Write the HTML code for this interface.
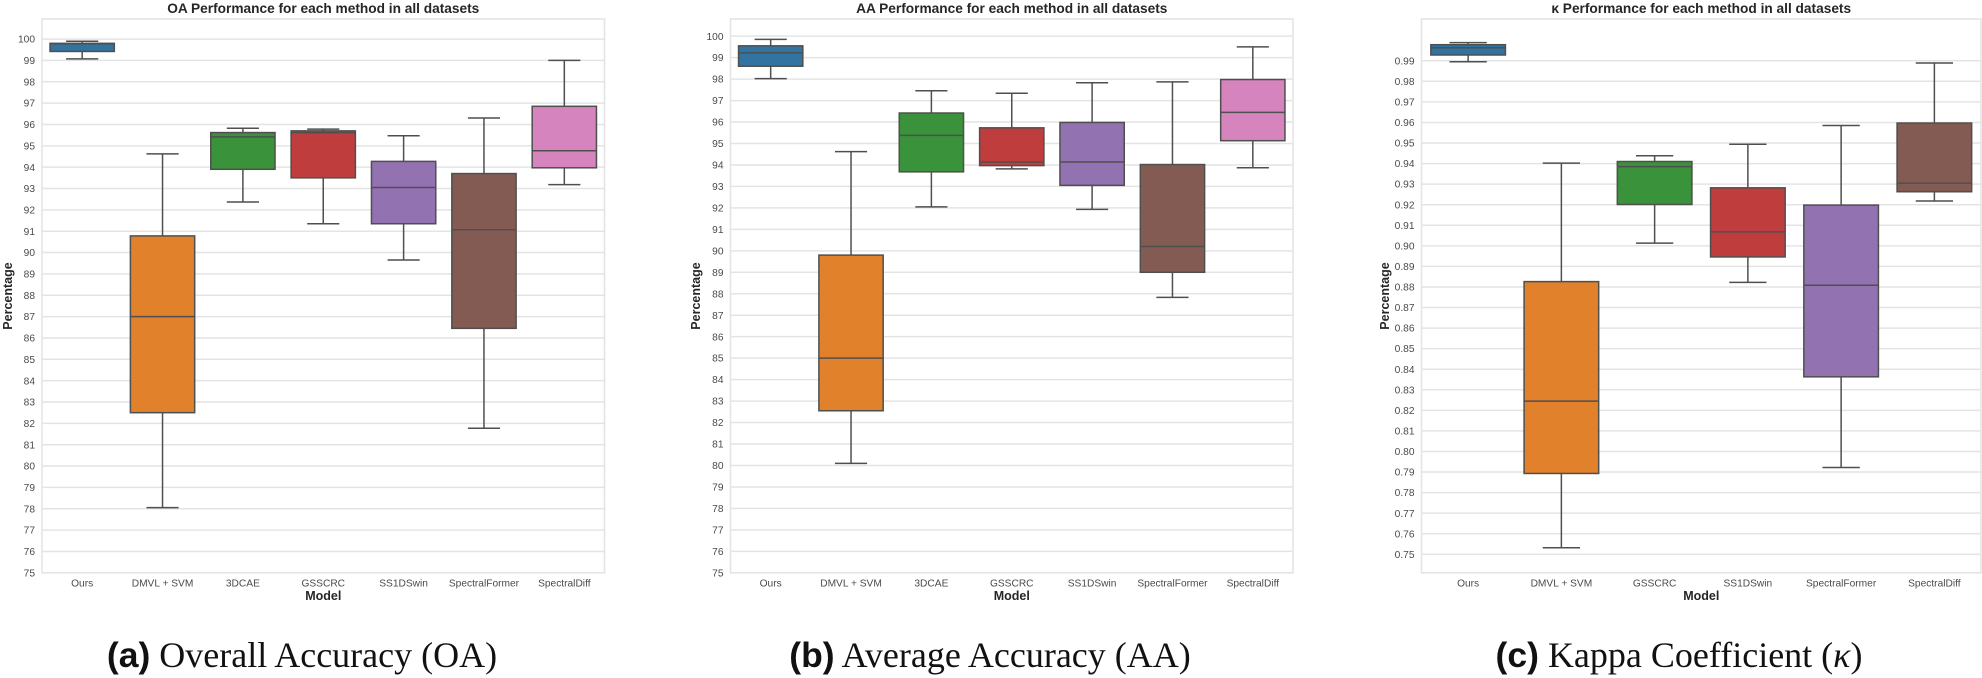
<!DOCTYPE html>
<html lang="en">
<head>
<meta charset="utf-8">
<title>Boxplots of OA, AA and Kappa per method</title>
<style>
html,body{margin:0;padding:0;background:#fff;width:1982px;height:678px;overflow:hidden}
svg{display:block;font-family:"Liberation Sans",Arial,sans-serif}
.tick{font-size:10.2px;fill:#4a4a4a}
.title{font-size:13.7px;font-weight:bold;fill:#262626}
.axlabel{font-size:12.5px;font-weight:bold;fill:#262626}
.cap{font-family:"Liberation Serif","Times New Roman",serif;font-size:36px;fill:#111}
.capb{font-family:"Liberation Sans",Arial,sans-serif;font-weight:bold;font-size:35.5px}
</style>
</head>
<body>
<svg id="chart" xmlns="http://www.w3.org/2000/svg" width="1982" height="678" viewBox="0 0 1982 678">
<rect width="1982" height="678" fill="#fff"/>
<g id="plots" style="filter:blur(0.35px)"></g>
<text class="cap" x="302" y="667" text-anchor="middle"><tspan class="capb">(a)</tspan> Overall Accuracy (OA)</text>
<text class="cap" x="990" y="667" text-anchor="middle"><tspan class="capb">(b)</tspan> Average Accuracy (AA)</text>
<text class="cap" x="1679" y="667" text-anchor="middle"><tspan class="capb">(c)</tspan> Kappa Coefficient (<tspan font-style="italic">κ</tspan>)</text>
</svg>
<script>
// ---- data ----
const categoriesOA = ["Ours","DMVL + SVM","3DCAE","GSSCRC","SS1DSwin","SpectralFormer","SpectralDiff"];
const whiskerLowOA  = [99.07,78.05,92.37,91.35,89.65,81.77,93.18];
const q1OA          = [99.42,82.50,93.90,93.50,91.35,86.45,93.97];
const medianOA      = [99.78,87.00,95.42,95.62,93.05,91.07,94.77];
const q3OA          = [99.80,90.78,95.62,95.70,94.27,93.70,96.85];
const whiskerHighOA = [99.90,94.62,95.82,95.78,95.47,96.30,99.00];
const tickValuesOA  = [75,76,77,78,79,80,81,82,83,84,85,86,87,88,89,90,91,92,93,94,95,96,97,98,99,100];
const tickLabelsOA  = ["75","76","77","78","79","80","81","82","83","84","85","86","87","88","89","90","91","92","93","94","95","96","97","98","99","100"];

const categoriesAA = ["Ours","DMVL + SVM","3DCAE","GSSCRC","SS1DSwin","SpectralFormer","SpectralDiff"];
const whiskerLowAA  = [98.02,80.10,92.05,93.82,91.93,87.83,93.87];
const q1AA          = [98.60,82.55,93.68,93.97,93.05,89.00,95.13];
const medianAA      = [99.22,85.00,95.38,94.14,94.14,90.20,96.45];
const q3AA          = [99.55,89.80,96.42,95.73,95.98,94.02,97.98];
const whiskerHighAA = [99.85,94.62,97.46,97.34,97.83,97.87,99.50];
const tickValuesAA  = [75,76,77,78,79,80,81,82,83,84,85,86,87,88,89,90,91,92,93,94,95,96,97,98,99,100];
const tickLabelsAA  = ["75","76","77","78","79","80","81","82","83","84","85","86","87","88","89","90","91","92","93","94","95","96","97","98","99","100"];

const categoriesK = ["Ours","DMVL + SVM","GSSCRC","SS1DSwin","SpectralFormer","SpectralDiff"];
const whiskerLowK  = [0.9895,0.7532,0.9013,0.8822,0.7922,0.9218];
const q1K          = [0.9928,0.7893,0.9201,0.8946,0.8363,0.9263];
const medianK      = [0.9963,0.8245,0.9385,0.9068,0.8808,0.9305];
const q3K          = [0.9978,0.8826,0.9410,0.9282,0.9198,0.9597];
const whiskerHighK = [0.9988,0.9402,0.9438,0.9494,0.9585,0.9889];
const tickValuesK  = [0.75,0.76,0.77,0.78,0.79,0.80,0.81,0.82,0.83,0.84,0.85,0.86,0.87,0.88,0.89,0.90,0.91,0.92,0.93,0.94,0.95,0.96,0.97,0.98,0.99];
const tickLabelsK  = ["0.75","0.76","0.77","0.78","0.79","0.80","0.81","0.82","0.83","0.84","0.85","0.86","0.87","0.88","0.89","0.90","0.91","0.92","0.93","0.94","0.95","0.96","0.97","0.98","0.99"];

const palette = ["#3274a1","#e1812c","#3a923a","#c03d3e","#9372b2","#845b53","#d684bd"];

const NS = "http://www.w3.org/2000/svg";
const root = document.getElementById("plots");

function make(parent, tag, attrs, text){
  const el = document.createElementNS(NS, tag);
  for (const k in attrs) el.setAttribute(k, attrs[k]);
  if (text !== undefined) el.textContent = text;
  parent.appendChild(el);
  return el;
}

function drawPanel(cfg){
  const g = make(root, "g", {});
  
  

  // axis functions
  const yScale = v => cfg.bottom - (v - cfg.yMin) / (cfg.yMax - cfg.yMin) * (cfg.bottom - cfg.top);
  const band = (cfg.right - cfg.left) / cfg.categories.length;
  const xScale = i => cfg.left + band * (i + 0.5);

  // gridlines and y ticks
  cfg.tickValues.forEach((v, i) => {
    const grid = make(g, "line", {x1: cfg.left, x2: cfg.right, y1: yScale(v), y2: yScale(v), stroke: "#e4e4e4", "stroke-width": 1.5});
    
    
    const lab = make(g, "text", {class: "tick", x: cfg.left - 7, y: yScale(v) + 3.6, "text-anchor": "end"}, cfg.tickLabels[i]);
    
    
  });

  // frame
  const frame = make(g, "rect", {x: cfg.left, y: cfg.top, width: cfg.right - cfg.left, height: cfg.bottom - cfg.top, fill: "none", stroke: "#e4e4e4", "stroke-width": 1.6});
  
  

  // boxes
  cfg.categories.forEach((name, i) => {
    const cx = xScale(i), bw = band * 0.8, cw = band * 0.4;
    const box = make(g, "g", {stroke: "#4f4f4f", "stroke-width": 1.5, fill: "none"});
    
    
    make(box, "line", {x1: cx, x2: cx, y1: yScale(cfg.q3[i]), y2: yScale(cfg.whiskerHigh[i])});
    make(box, "line", {x1: cx, x2: cx, y1: yScale(cfg.q1[i]), y2: yScale(cfg.whiskerLow[i])});
    make(box, "line", {x1: cx - cw / 2, x2: cx + cw / 2, y1: yScale(cfg.whiskerHigh[i]), y2: yScale(cfg.whiskerHigh[i])});
    make(box, "line", {x1: cx - cw / 2, x2: cx + cw / 2, y1: yScale(cfg.whiskerLow[i]), y2: yScale(cfg.whiskerLow[i])});
    make(box, "rect", {x: cx - bw / 2, y: yScale(cfg.q3[i]), width: bw, height: yScale(cfg.q1[i]) - yScale(cfg.q3[i]), fill: palette[i]});
    make(box, "line", {x1: cx - bw / 2, x2: cx + bw / 2, y1: yScale(cfg.median[i]), y2: yScale(cfg.median[i])});
    const lab = make(g, "text", {class: "tick", x: cx, y: 586.5, "text-anchor": "middle"}, name);
    
    
  });

  // titles
  const midX = (cfg.left + cfg.right) / 2;
  const title = make(g, "text", {class: "title", x: midX, y: 13, "text-anchor": "middle"}, cfg.title);
  
  
  const xt = make(g, "text", {class: "axlabel", x: midX, y: 600, "text-anchor": "middle"}, "Model");
  
  
  const yt = make(g, "text", {class: "axlabel", x: 0, y: 0, "text-anchor": "middle", transform: "translate(" + cfg.yTitleX + ",296) rotate(-90)"}, "Percentage");
  
  
}

drawPanel({key: "oa", title: "OA Performance for each method in all datasets", left: 42, right: 604.5, top: 19, bottom: 572.8, yMin: 75, yMax: 100.94, yTitleX: 12,
  categories: categoriesOA, whiskerLow: whiskerLowOA, q1: q1OA, median: medianOA, q3: q3OA, whiskerHigh: whiskerHighOA, tickValues: tickValuesOA, tickLabels: tickLabelsOA});
drawPanel({key: "aa", title: "AA Performance for each method in all datasets", left: 730.5, right: 1293, top: 19, bottom: 572.8, yMin: 75, yMax: 100.8, yTitleX: 700,
  categories: categoriesAA, whiskerLow: whiskerLowAA, q1: q1AA, median: medianAA, q3: q3AA, whiskerHigh: whiskerHighAA, tickValues: tickValuesAA, tickLabels: tickLabelsAA});
drawPanel({key: "kappa", title: "κ Performance for each method in all datasets", left: 1421.5, right: 1981, top: 19, bottom: 572.8, yMin: 0.7410, yMax: 1.0103, yTitleX: 1389,
  categories: categoriesK, whiskerLow: whiskerLowK, q1: q1K, median: medianK, q3: q3K, whiskerHigh: whiskerHighK, tickValues: tickValuesK, tickLabels: tickLabelsK});
</script>
</body>
</html>
